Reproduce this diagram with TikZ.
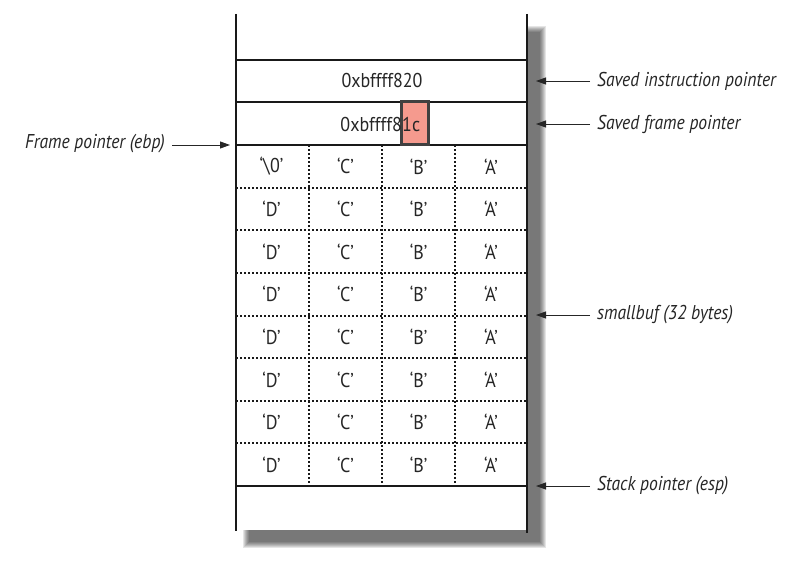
\documentclass[tikz,border=0pt]{standalone}
\usepackage{fontspec}
\setmainfont{PT Sans}[FakeStretch=0.9]
\newfontfamily\labfont{PT Sans}[FakeStretch=0.88]
\usetikzlibrary{arrows.meta}
\definecolor{hilite}{HTML}{F59A8E}
\begin{document}
\begin{tikzpicture}[x=1pt,y=-1pt,
  wall/.style={line width=2.5pt, black!90},
  sep/.style={line width=2pt, black!90},
  dots/.style={line width=2pt, dash pattern=on 2pt off 2pt, black!90},
  lab/.style={font=\labfont\itshape\fontsize{20}{24}\selectfont, anchor=west, inner sep=0pt, text=black!85},
  cell/.style={font=\fontsize{20}{24}\selectfont, inner sep=0pt, text=black!85},
  ptr/.style={-{Triangle[length=10pt,width=7pt]}, line width=0.9pt, black!85}
]
\useasboundingbox (0,0) rectangle (794,575);
% shadow
\foreach \i in {0,...,6}{
  \fill[black, opacity=0.1] (243+\i,26+\i) rectangle (546-\i,548-\i);
}
\fill[white] (236,14) rectangle (527,530);
% grid
\def\rh{42.625}
\foreach \k in {1,...,7}{
  \draw[dots] (236,145+\k*\rh) -- (527,145+\k*\rh);
}
\foreach \xx in {309,382,455}{
  \draw[dots] (\xx,145) -- (\xx,486);
}
\draw[sep] (236,60) -- (527,60);
\draw[sep] (236,102) -- (527,102);
\draw[sep] (236,145) -- (527,145);
\draw[sep] (236,486) -- (527,486);
\draw[wall] (236,14) -- (236,531);
\draw[wall] (527,14) -- (527,533);
% wall coordinates
\coordinate (sip) at (536,81);
\coordinate (sfp) at (536,124);
\coordinate (sbuf) at (536,315);
\coordinate (esp) at (536,486);
\coordinate (ebp) at (230,145);
\coordinate (sipS) at (590,81);
\coordinate (sfpS) at (590,124);
\coordinate (sbufS) at (590,315);
\coordinate (espS) at (590,486);
\coordinate (ebpS) at (172,145);
% highlight box
\draw[fill=hilite, draw=black!75, line width=3pt] (401,102) rectangle (428,144);
% values
\node[cell] (ret) at (382,81) {0xbffff820};
\node[cell, anchor=base east] (fpa) at (402,131) {0xbffff8};
\node[cell, anchor=base west] (fpb) at (402,131) {1c};
% cells
\foreach \r in {0,...,7}{
  \pgfmathsetmacro{\yy}{145+(\r+0.5)*\rh}
  \ifnum\r=0
    \node[cell] (c\r-1) at (271.5,\yy) {‘\textbackslash0’};
  \else
    \node[cell] (c\r-1) at (271.5,\yy) {‘D’};
  \fi
  \node[cell] (c\r-2) at (345.5,\yy) {‘C’};
  \node[cell] (c\r-3) at (418.5,\yy) {‘B’};
  \node[cell] (c\r-4) at (491,\yy) {‘A’};
}
% labels and pointers
\node[lab] (lsip) at (597,81) {Saved instruction pointer};
\node[lab] (lsfp) at (597,124) {Saved frame pointer};
\node[lab] (lbuf) at (597,315) {smallbuf (32 bytes)};
\node[lab] (lesp) at (597,486) {Stack pointer (esp)};
\node[lab, anchor=east] (lebp) at (165,144) {Frame pointer (ebp)};
\draw[ptr] (sipS) -- (sip);
\draw[ptr] (sfpS) -- (sfp);
\draw[ptr] (sbufS) -- (sbuf);
\draw[ptr] (espS) -- (esp);
\draw[ptr] (ebpS) -- (ebp);
\end{tikzpicture}
\end{document}
